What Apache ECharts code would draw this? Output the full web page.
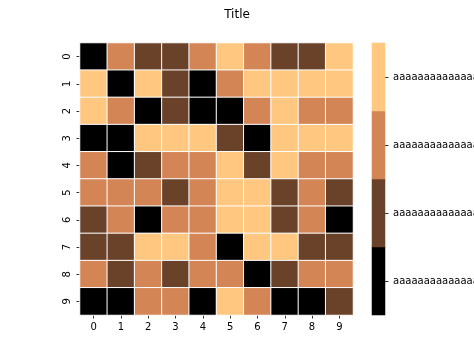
<!DOCTYPE html>
<html><head><meta charset="utf-8">
<script src="https://cdn.jsdelivr.net/npm/echarts@6/dist/echarts.min.js"></script>
<style>html,body{margin:0;padding:0;background:#fff}#c{width:474px;height:355px}</style>
</head><body><div id="c"></div>
<script>
const xLabels = ['0','1','2','3','4','5','6','7','8','9'];
const yLabels = ['0','1','2','3','4','5','6','7','8','9'];
const rows = [
  [0,2,1,1,2,3,2,1,1,3],
  [3,0,3,1,0,2,3,3,3,3],
  [3,2,0,1,0,0,2,3,2,2],
  [0,0,3,3,3,1,0,3,3,3],
  [2,0,1,2,2,3,1,3,2,2],
  [2,2,2,1,2,3,3,1,2,1],
  [1,2,0,2,2,3,3,1,2,0],
  [1,1,3,3,2,0,3,3,1,1],
  [2,1,2,1,2,2,0,1,2,2],
  [0,0,2,2,0,3,2,0,0,1]
];
const levels = [0,1,2,3];
const levelColors = ['#000000','#6a422a','#d48555','#ffc77f'];
const cbarLabels = ['aaaaaaaaaaaaaaaaaaaa','aaaaaaaaaaaaaaaaaaaa','aaaaaaaaaaaaaaaaaaaa','aaaaaaaaaaaaaaaaaaaa'];

const mainData = [];
rows.forEach((r, yi) => r.forEach((v, xi) => mainData.push([xi, yi, v])));
const cbarData = levels.map((v, i) => [0, i, v]);

const font = 'DejaVu Sans';
const chart = echarts.init(document.getElementById('c'), null, {renderer:'canvas'});
chart.setOption({
  animation: false,
  backgroundColor: '#fff',
  title: {text: 'Title', left: 'center', top: 4, textStyle: {fontFamily: font, fontSize: 12, fontWeight: 'normal', color: '#000'}},
  visualMap: {
    show: false, type: 'piecewise', dimension: 2, seriesIndex: [0,1],
    pieces: levels.map((v, i) => ({value: v, color: levelColors[i]}))
  },
  grid: [
    {left: 80, top: 43, width: 273, height: 272, containLabel: false, outerBoundsMode: 'none'},
    {left: 372, top: 43, width: 13, height: 272, containLabel: false, outerBoundsMode: 'none'}
  ],
  xAxis: [
    {type: 'category', gridIndex: 0, data: xLabels, position: 'bottom',
     axisLine: {show: false}, splitLine: {show: false},
     axisTick: {show: true, alignWithLabel: true, length: 3.5, lineStyle: {color: '#000', width: 0.8}},
     axisLabel: {fontFamily: font, fontSize: 10, color: '#000', margin: 7}},
    {type: 'category', gridIndex: 1, data: ['c'], show: false}
  ],
  yAxis: [
    {type: 'category', gridIndex: 0, data: yLabels, inverse: true,
     axisLine: {show: false}, splitLine: {show: false},
     axisTick: {show: true, alignWithLabel: true, length: 3.5, lineStyle: {color: '#000', width: 0.8}},
     axisLabel: {fontFamily: font, fontSize: 10, color: '#000', rotate: 90, margin: 8}},
    {type: 'category', gridIndex: 1, data: cbarLabels, position: 'right',
     axisLine: {show: false}, splitLine: {show: false},
     axisTick: {show: true, alignWithLabel: true, length: 3.5, lineStyle: {color: '#000', width: 0.8}},
     axisLabel: {fontFamily: font, fontSize: 10, color: '#000', margin: 8}}
  ],
  series: [
    {type: 'heatmap', xAxisIndex: 0, yAxisIndex: 0, data: mainData,
     itemStyle: {borderColor: '#fff', borderWidth: 1}, emphasis: {disabled: true}},
    {type: 'heatmap', xAxisIndex: 1, yAxisIndex: 1, data: cbarData,
     itemStyle: {borderWidth: 0}, emphasis: {disabled: true}}
  ]
});
</script></body></html>
